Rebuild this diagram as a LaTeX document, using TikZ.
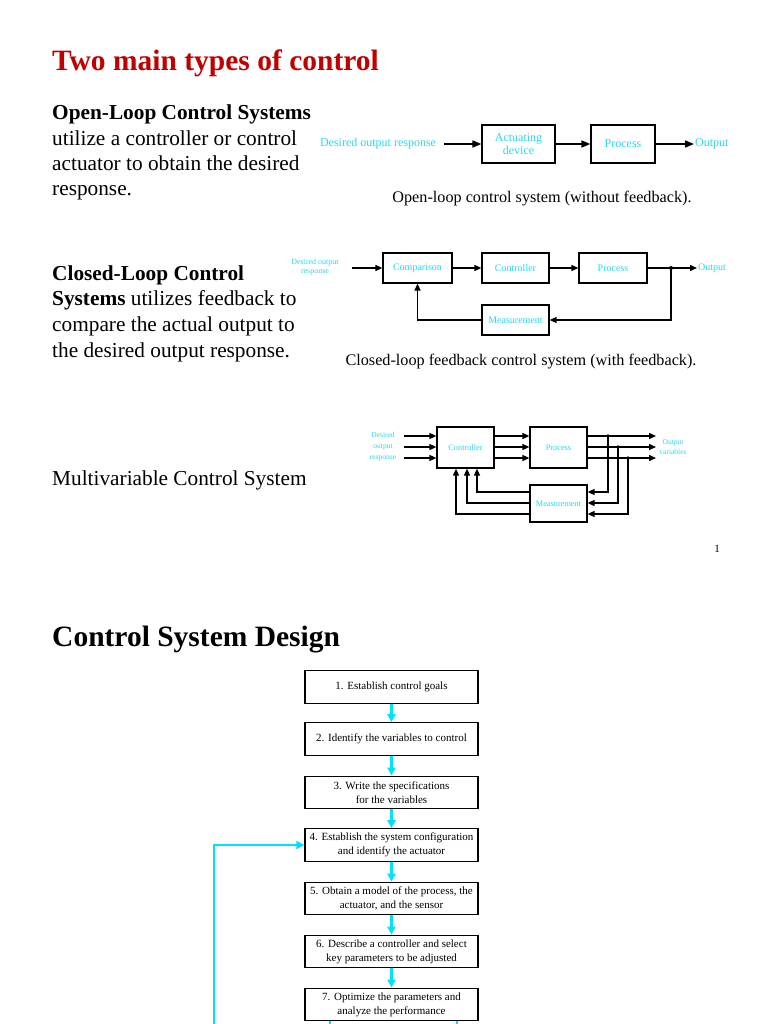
\documentclass[tikz,border=0pt]{standalone}
\usepackage{fontspec}
\setmainfont{Liberation Serif}
\usetikzlibrary{arrows.meta,calc}
\definecolor{titlered}{RGB}{192,0,0}
\definecolor{dcyan}{RGB}{40,215,240}
\definecolor{fcyan}{RGB}{0,225,250}
\begin{document}
\begin{tikzpicture}[x=1pt,y=-1pt,
  body/.style={anchor=base west,inner sep=0pt,font=\fontsize{21.3}{25}\selectfont},
  head/.style={anchor=base west,inner sep=0pt,font=\fontsize{29.5}{34}\selectfont\bfseries},
  captxt/.style={inner sep=0pt,font=\fontsize{16.2}{19}\selectfont},
  olbox/.style={draw,line width=1.2pt,align=center,text=dcyan,inner sep=1pt,font=\fontsize{12}{13}\selectfont},
  clbox/.style={draw,line width=1.2pt,align=center,text=dcyan,inner sep=1pt,minimum height=30pt,font=\fontsize{10}{11}\selectfont},
  mvbox/.style={draw,line width=1.2pt,align=center,text=dcyan,inner sep=1pt,font=\fontsize{8.3}{9}\selectfont},
  lbl/.style={text=dcyan,align=center,inner sep=1pt},
  flow/.style={draw,line width=1.2pt,align=center,minimum width=173pt,minimum height=32.5pt,inner sep=1pt,font=\fontsize{11}{14}\selectfont},
  arr/.style={-{Triangle[length=9pt,width=7pt]},line width=1.6pt},
  sarr/.style={-{Triangle[length=7pt,width=6pt]},line width=1.4pt},
  carr/.style={-{Triangle[length=8pt,width=8pt]},line width=2.6pt,draw=fcyan},
  cline/.style={line width=2.6pt,draw=fcyan}]
\useasboundingbox (0,0) rectangle (768,1024);
\fill[white] (0,0) rectangle (768,1024);

% ---------- left texts ----------
\node[head,text=titlered] (t1) at (52,71) {Two main types of control};
\node[body] (p1) at (52,120) {\textbf{Open-Loop Control Systems}};
\node[body] (p2) at (52,146) {utilize a controller or control};
\node[body] (p3) at (52,171) {actuator to obtain the desired};
\node[body] (p4) at (52,196) {response.};
\node[body] (q1) at (52,280) {\textbf{Closed-Loop Control}};
\node[body] (q2) at (52,305) {\textbf{Systems} utilizes feedback to};
\node[body] (q3) at (52,331) {compare the actual output to};
\node[body] (q4) at (52,357) {the desired output response.};
\node[body] (mv) at (52,485) {Multivariable Control System};
\node[inner sep=0pt,font=\fontsize{11}{12}\selectfont] (pg) at (717,549) {1};
\node[head] (t2) at (52,646) {Control System Design};

% ---------- open loop ----------
\node[lbl,font=\fontsize{12}{13}\selectfont] (oin) at (378,144) {Desired output response};
\node[olbox,minimum width=73pt,minimum height=38pt] (oact) at (518.5,144) {Actuating\\device};
\node[olbox,minimum width=64pt,minimum height=38pt] (oprc) at (623,144) {Process};
\node[lbl,font=\fontsize{12}{13}\selectfont,anchor=west] (oout) at (694,144) {Output};
\draw[arr,shorten <=7pt] (oin.east |- oact.west) -- (oact.west);
\draw[arr] (oact.east) -- (oprc.west);
\draw[arr] (oprc.east) -- (oout.west |- oprc.east);
\node[captxt] (ocap) at (542,199) {Open-loop control system (without feedback).};

% ---------- closed loop ----------
\node[lbl,font=\fontsize{8}{9.5}\selectfont] (cin) at (315,267) {Desired output\\response};
\node[clbox,minimum width=69pt] (ccmp) at (417.5,268) {Comparison};
\node[clbox,minimum width=67pt] (cctl) at (515.5,268) {Controller};
\node[clbox,minimum width=68pt] (cprc) at (613,268) {Process};
\node[clbox,minimum width=67pt] (cmea) at (515.5,320) {Measurement};
\coordinate (cdot) at (671,268);
\node[lbl,font=\fontsize{10}{11}\selectfont,anchor=west] (cout) at (697,268) {Output};
\draw[sarr,shorten <=12pt] (cin.east |- ccmp.west) -- (ccmp.west);
\draw[sarr] (ccmp.east) -- (cctl.west);
\draw[sarr] (cctl.east) -- (cprc.west);
\draw[line width=1.4pt] (cprc.east) -- (cdot);
\draw[sarr] (cdot) -- (cout.west |- cdot);
\fill (cdot) circle (2pt);
\draw[sarr] (cdot) |- (cmea.east);
\draw[sarr] (cmea.west) -| (ccmp.south);
\node[captxt] (ccap) at (521,362) {Closed-loop feedback control system (with feedback).};

% ---------- multivariable ----------
\node[lbl,font=\fontsize{7.5}{11}\selectfont] (min) at (383,447) {Desired\\output\\response};
\node[mvbox,minimum width=57pt,minimum height=41pt] (mctl) at (465.5,447.5) {Controller};
\node[mvbox,minimum width=57pt,minimum height=41pt] (mprc) at (558.5,447.5) {Process};
\node[mvbox,minimum width=57pt,minimum height=37pt] (mmea) at (558.5,503.5) {Measurement};
\node[lbl,font=\fontsize{7.5}{10}\selectfont] (mout) at (673,447) {Output\\variables};
\coordinate (r1) at (0,436);
\coordinate (r2) at (0,447);
\coordinate (r3) at (0,458);
\coordinate (f1) at (0,492);
\coordinate (f2) at (0,503);
\coordinate (f3) at (0,514);
\coordinate (i1) at (404,436);
\coordinate (i2) at (404,447);
\coordinate (i3) at (404,458);
\coordinate (o1) at (656,436);
\coordinate (o2) at (656,447);
\coordinate (o3) at (656,458);
\coordinate (d1) at (608,436);
\coordinate (d2) at (618,447);
\coordinate (d3) at (628,458);
\coordinate (u1) at (477,0);
\coordinate (u2) at (467,0);
\coordinate (u3) at (456,0);
\foreach \k in {1,2,3}{
  \draw[sarr] (i\k) -- (i\k -| mctl.west);
  \draw[sarr] (mctl.east |- r\k) -- (mprc.west |- r\k);
  \draw[sarr] (mprc.east |- r\k) -- (o\k);
  \fill (d\k) circle (1.8pt);
  \draw[sarr] (d\k) |- (mmea.east |- f\k);
  \draw[sarr] (mmea.west |- f\k) -| (u\k |- mctl.south);
}

% ---------- flowchart ----------
\node[flow] (b1) at (391.5,687) {1. Establish control goals};
\node[flow] (b2) at (391.5,739) {2. Identify the variables to control};
\node[flow] (b3) at (391.5,792.5) {3. Write the specifications\\for the variables};
\node[flow] (b4) at (391.5,845) {4. Establish the system configuration\\and identify the actuator};
\node[flow] (b5) at (391.5,898.5) {5. Obtain a model of the process, the\\actuator, and the sensor};
\node[flow] (b6) at (391.5,951.5) {6. Describe a controller and select\\key parameters to be adjusted};
\node[flow] (b7) at (391.5,1004.5) {7. Optimize the parameters and\\analyze the performance};
\draw[carr] (b1.south) -- (b2.north);
\draw[carr] (b2.south) -- (b3.north);
\draw[carr] (b3.south) -- (b4.north);
\draw[carr] (b4.south) -- (b5.north);
\draw[carr] (b5.south) -- (b6.north);
\draw[carr] (b6.south) -- (b7.north);
\coordinate (fb) at (214,1024);
\coordinate (bl) at (330,1024);
\coordinate (br) at (457,1024);
\draw[carr] (fb) |- (b4.west);
\draw[cline] (bl |- b7.south) -- (bl);
\draw[cline] (br |- b7.south) -- (br);
\end{tikzpicture}
\end{document}
